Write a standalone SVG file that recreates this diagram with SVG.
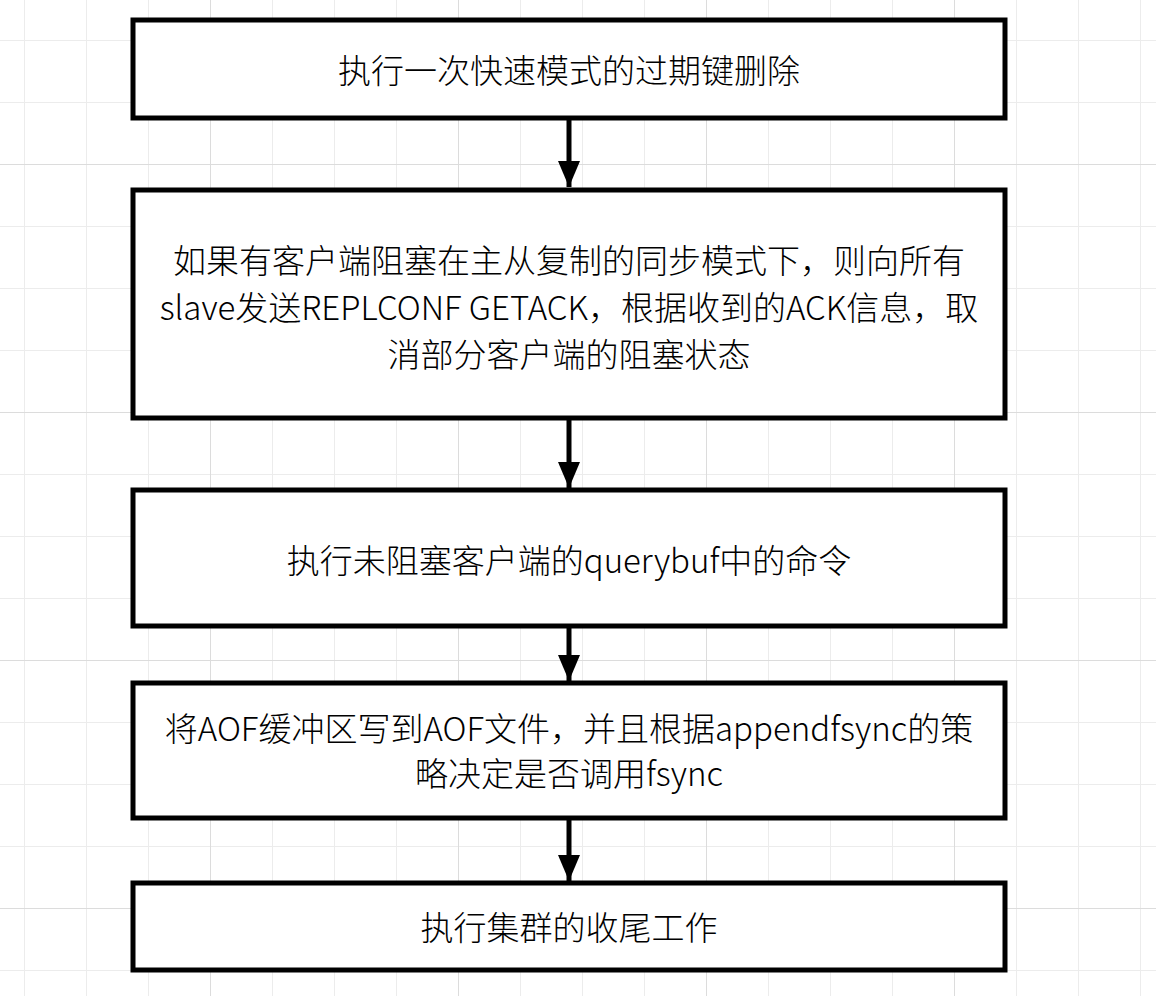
<svg xmlns="http://www.w3.org/2000/svg" width="1156" height="996" viewBox="0 0 1156 996">
<defs>
<pattern id="minor" width="62" height="62" patternUnits="userSpaceOnUse" x="24" y="40"><path d="M0 0H62M0 0V62" fill="none" stroke="#ececec" stroke-width="2"/></pattern>
<pattern id="major" width="248" height="248" patternUnits="userSpaceOnUse" x="210" y="164"><path d="M0 0H248M0 0V248" fill="none" stroke="#dcdcdc" stroke-width="2"/></pattern>
<marker id="ah" markerUnits="userSpaceOnUse" markerWidth="28" markerHeight="22" refX="26" refY="11" orient="auto"><path d="M0 0L26 11L0 22Z" fill="#000"/></marker>
</defs>
<style>
.box{fill:#fff;stroke:#000;stroke-width:5}
.t{font-family:"Microsoft YaHei","Noto Sans CJK SC",sans-serif;font-size:33px;font-weight:300;fill:#000;text-anchor:middle}
.c{stroke:#000;stroke-width:5;fill:none;marker-end:url(#ah)}
</style>
<rect width="1156" height="996" fill="#fff"/>
<rect width="1156" height="996" fill="url(#minor)"/>
<rect width="1156" height="996" fill="url(#major)"/>
<g id="connectors">
<path class="c" d="M569 120V187"/>
<path class="c" d="M569 420V488"/>
<path class="c" d="M569 628V681"/>
<path class="c" d="M569 820V881"/>
</g>
<g id="n1"><rect class="box" x="133" y="20" width="872" height="98"/><text class="t" x="569" y="83">执行一次快速模式的过期键删除</text></g>
<g id="n2"><rect class="box" x="133" y="190" width="872" height="228"/><text class="t" x="569" y="273">如果有客户端阻塞在主从复制的同步模式下，则向所有</text><text class="t" x="569" y="320">slave发送REPLCONF GETACK，根据收到的ACK信息，取</text><text class="t" x="569" y="367">消部分客户端的阻塞状态</text></g>
<g id="n3"><rect class="box" x="133" y="490" width="872" height="136"/><text class="t" x="569" y="573">执行未阻塞客户端的querybuf中的命令</text></g>
<g id="n4"><rect class="box" x="133" y="683" width="872" height="135"/><text class="t" x="569" y="741">将AOF缓冲区写到AOF文件，并且根据appendfsync的策</text><text class="t" x="569" y="786">略决定是否调用fsync</text></g>
<g id="n5"><rect class="box" x="133" y="883" width="872" height="87"/><text class="t" x="569" y="940">执行集群的收尾工作</text></g>
</svg>
